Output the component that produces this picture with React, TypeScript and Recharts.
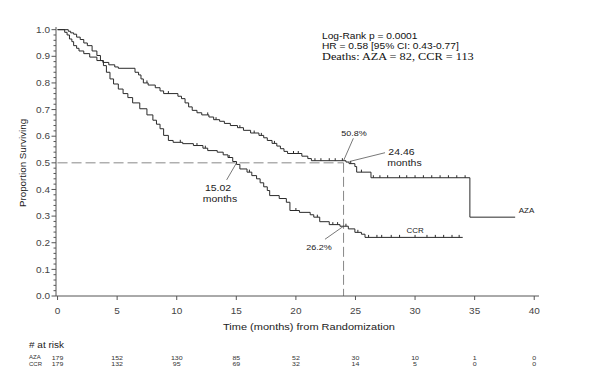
import React from 'react';
import {
  ComposedChart,
  Line,
  Scatter,
  XAxis,
  YAxis,
  ReferenceLine,
  ReferenceDot,
  Customized,
} from 'recharts';

// ---------- data ----------
const timeTicks = [0, 5, 10, 15, 20, 25, 30, 35, 40];
const atRiskAZA = [179, 152, 130, 85, 52, 30, 10, 1, 0];
const atRiskCCR = [179, 132, 95, 69, 32, 14, 5, 0, 0];

// Kaplan-Meier steps: [time (months), proportion surviving]
const azaCurve: [number, number][] = [
  [0, 1.0], [0.6, 0.99], [0.8, 0.98], [1.0, 0.965], [1.2, 0.955], [1.35, 0.94],
  [1.6, 0.93], [1.8, 0.92], [2.2, 0.91], [2.7, 0.897], [3.3, 0.884], [3.8, 0.877],
  [4.3, 0.868], [4.8, 0.86], [5.1, 0.855], [6.5, 0.84], [6.8, 0.83], [7.0, 0.815],
  [7.2, 0.8], [7.6, 0.792], [8.2, 0.782], [8.6, 0.77], [8.9, 0.76], [10.1, 0.75],
  [10.4, 0.741], [10.7, 0.725], [11.0, 0.71], [11.3, 0.697], [11.7, 0.688],
  [12.1, 0.68], [12.7, 0.672], [13.1, 0.662], [13.6, 0.656], [14.0, 0.648],
  [14.5, 0.64], [15.1, 0.632], [15.6, 0.622], [16.2, 0.612], [16.9, 0.603],
  [17.3, 0.594], [17.6, 0.584], [18.0, 0.573], [18.4, 0.563], [18.7, 0.553],
  [19.0, 0.543], [19.3, 0.535], [20.5, 0.525], [21.0, 0.516], [21.3, 0.508],
  [24.2, 0.503], [24.46, 0.497], [24.95, 0.486], [25.1, 0.465], [26.3, 0.444],
  [34.6, 0.296], [38.4, 0.296],
];

const ccrCurve: [number, number][] = [
  [0, 1.0], [0.9, 0.994], [1.1, 0.988], [1.35, 0.983], [1.6, 0.972], [1.9, 0.963],
  [2.2, 0.95], [2.5, 0.94], [2.9, 0.92], [3.3, 0.903], [3.6, 0.884], [3.85, 0.865],
  [4.1, 0.84], [4.4, 0.815], [4.7, 0.796], [5.1, 0.777], [5.5, 0.76], [5.9, 0.745],
  [6.3, 0.725], [6.9, 0.703], [7.5, 0.68], [8.0, 0.66], [8.3, 0.645], [8.6, 0.628],
  [8.9, 0.603], [9.3, 0.584], [9.7, 0.577], [10.5, 0.572], [11.4, 0.565],
  [12.2, 0.555], [12.6, 0.546], [13.4, 0.54], [13.9, 0.53], [14.3, 0.52],
  [14.7, 0.505], [15.02, 0.494], [15.3, 0.477], [15.9, 0.465], [16.3, 0.452],
  [16.7, 0.44], [17.0, 0.425], [17.3, 0.41], [17.6, 0.396], [17.8, 0.377],
  [18.6, 0.366], [19.2, 0.352], [19.5, 0.321], [20.3, 0.314], [21.2, 0.305],
  [21.5, 0.296], [22.0, 0.279], [22.8, 0.268], [23.7, 0.262], [24.4, 0.252],
  [24.95, 0.239], [25.5, 0.232], [25.8, 0.22], [34.0, 0.22],
];

// censoring times
const azaCensor = [7.5, 9.3, 12.6, 13.3, 15.3, 16.5, 17.1, 18.2, 19.8, 20.2, 21.6, 22.1,
  22.8, 23.3, 23.9, 24.6, 25.5, 26.5, 27.05, 27.7, 28.7, 29.3, 30.0, 30.7, 31.4, 32.1,
  32.8, 33.5, 34.2];
const ccrCensor = [10.3, 11.7, 12.4, 14.4, 16.1, 20.0, 21.8, 23.1, 23.5, 24.2, 25.2,
  26.1, 26.8, 27.2, 28.0, 28.7, 30.0, 31.0, 31.7, 32.4, 33.1, 33.7];

const yMajor = [0, 0.1, 0.2, 0.3, 0.4, 0.5, 0.6, 0.7, 0.8, 0.9, 1.0];
const yTicks = Array.from({ length: 51 }, (_, i) => Math.round(i * 2) / 100);

// ---------- helpers ----------
const toRows = (c: [number, number][]) => c.map(([t, s]) => ({ t, s }));
const survAt = (c: [number, number][], t: number) => {
  let s = c[0][1];
  for (const [ti, si] of c) if (ti <= t) s = si;
  return s;
};
const azaData = toRows(azaCurve);
const ccrData = toRows(ccrCurve);
const azaCensorData = azaCensor.map((t) => ({ t, s: survAt(azaCurve, t) }));
const ccrCensorData = ccrCensor.map((t) => ({ t, s: survAt(ccrCurve, t) }));

const FONT = '"Liberation Sans", Arial, sans-serif';
const SERIF = '"Liberation Serif", "Times New Roman", serif';
const INK = '#2a2a2a';
const AXIS = '#555';

// text slightly compressed vertically, like the reference rendering
const SText = ({ x, y, size, anchor = 'start', k = 0.88, fill = '#222', family = FONT, children }: any) => (
  <text
    transform={`translate(${x} ${y}) scale(1 ${k})`}
    x={0}
    y={0}
    fontSize={size}
    textAnchor={anchor}
    fill={fill}
    fontFamily={family}
  >
    {children}
  </text>
);

const CensorMark = (p: any) => (
  <line x1={p.cx} x2={p.cx} y1={p.cy - 2.5} y2={p.cy} stroke={INK} strokeWidth={1} />
);

const YTick = (p: any) => {
  const { x, y, payload } = p;
  const v = payload.value as number;
  const major = yMajor.some((m) => Math.abs(m - v) < 1e-6);
  const axisX = x + 6;
  return (
    <g>
      <line x1={axisX - (major ? 4.5 : 2.5)} x2={axisX} y1={y} y2={y} stroke={AXIS} strokeWidth={1} />
      {major && (
        <SText x={x} y={y + 3.2} size={10} anchor="end" fill="#444">
          {v.toFixed(1)}
        </SText>
      )}
    </g>
  );
};

const XTick = (p: any) => {
  const { x, y, payload } = p;
  return (
    <SText x={x} y={y + 14} size={10} anchor="middle" fill="#444">
      {payload.value}
    </SText>
  );
};

const annotations = [
  { t: 24.88, v: 0.612, text: '50.8%', size: 9 },
  { t: 28.86, v: 0.542, text: '24.46', size: 10.5 },
  { t: 29.11, v: 0.502, text: 'months', size: 10.5 },
  { t: 13.47, v: 0.406, text: '15.02', size: 10.5 },
  { t: 13.63, v: 0.364, text: 'months', size: 10.5 },
  { t: 21.94, v: 0.185, text: '26.2%', size: 9 },
  { t: 30.0, v: 0.248, text: 'CCR', size: 8 },
  { t: 39.35, v: 0.323, text: 'AZA', size: 8 },
];

const leaders = [
  [{ x: 24, y: 0.508 }, { x: 24.82, y: 0.592 }],
  [{ x: 24.5, y: 0.505 }, { x: 27.48, y: 0.538 }],
  [{ x: 15.02, y: 0.5 }, { x: 14.19, y: 0.436 }],
  [{ x: 24, y: 0.262 }, { x: 22.44, y: 0.213 }],
];

// at-risk table rows (placed below the axis through the y scale)
const riskRowAZA = -0.23;
const riskRowCCR = -0.255;

const StaticText = () => (
  <g>
    <SText x={322} y={38.5} size={10.2} fill="#111">Log-Rank p = 0.0001</SText>
    <SText x={322} y={48.5} size={10.2} fill="#111">HR = 0.58 [95% CI: 0.43-0.77]</SText>
    <SText x={322} y={59.5} size={12.3} fill="#111" family={SERIF}>Deaths: AZA = 82, CCR = 113</SText>
    <text
      x={22}
      y={163}
      fontSize={9.8}
      textAnchor="middle"
      dominantBaseline="central"
      transform="rotate(-90 22 163)"
      fill="#222"
      fontFamily={FONT}
    >
      Proportion Surviving
    </text>
    <SText x={309} y={330} size={11} anchor="middle">Time (months) from Randomization</SText>
    <SText x={29} y={348} size={10}>
      # at risk
    </SText>
    <SText x={29} y={359.3} size={6} fill="#333">AZA</SText>
    <SText x={29} y={366} size={6} fill="#333">CCR</SText>
  </g>
);

export default function App() {
  return (
    <div style={{ position: 'absolute', left: 0, top: 0, width: 604, height: 376, background: '#fff', fontFamily: FONT }}>
      <ComposedChart width={604} height={376} margin={{ top: 27, right: 65, bottom: 7, left: 0 }}>
        <XAxis
          type="number"
          dataKey="t"
          domain={[-0.13, 40.4]}
          allowDataOverflow
          ticks={timeTicks}
          interval={0}
          height={73}
          tickSize={4}
          tickMargin={0}
          stroke={AXIS}
          tick={<XTick />}
        />
        <YAxis
          type="number"
          domain={[0, 1.01]}
          allowDataOverflow
          ticks={yTicks}
          interval={0}
          width={56}
          tickSize={5}
          tickMargin={1}
          tickLine={false}
          stroke={AXIS}
          tick={<YTick />}
        />

        <ReferenceLine
          segment={[{ x: 0, y: 0.5 }, { x: 24, y: 0.5 }]}
          stroke="#888"
          strokeDasharray="10 4"
          strokeWidth={1}
        />
        <ReferenceLine
          segment={[{ x: 24, y: 0.5 }, { x: 24, y: 0 }]}
          stroke="#888"
          strokeDasharray="10 4"
          strokeWidth={1}
        />

        <Line
          data={azaData}
          dataKey="s"
          type="stepAfter"
          stroke={INK}
          strokeWidth={1}
          dot={false}
          isAnimationActive={false}
        />
        <Line
          data={ccrData}
          dataKey="s"
          type="stepAfter"
          stroke={INK}
          strokeWidth={1}
          dot={false}
          isAnimationActive={false}
        />
        <Scatter data={azaCensorData} dataKey="s" shape={<CensorMark />} isAnimationActive={false} />
        <Scatter data={ccrCensorData} dataKey="s" shape={<CensorMark />} isAnimationActive={false} />

        {leaders.map((seg, i) => (
          <ReferenceLine key={'l' + i} segment={seg} stroke="#555" strokeWidth={0.8} />
        ))}
        {annotations.map((a, i) => (
          <ReferenceDot
            key={'a' + i}
            x={a.t}
            y={a.v}
            r={0}
            shape={(p: any) => (
              <SText x={p.cx} y={p.cy + a.size * 0.32} size={a.size} anchor="middle">
                {a.text}
              </SText>
            )}
          />
        ))}
        {timeTicks.map((t, i) => (
          <ReferenceDot
            key={'ra' + i}
            x={t}
            y={riskRowAZA}
            r={0}
            ifOverflow="visible"
            shape={(p: any) => (
              <SText x={p.cx} y={p.cy + 2.3} size={7} anchor="middle" fill="#333">
                {atRiskAZA[i]}
              </SText>
            )}
          />
        ))}
        {timeTicks.map((t, i) => (
          <ReferenceDot
            key={'rc' + i}
            x={t}
            y={riskRowCCR}
            r={0}
            ifOverflow="visible"
            shape={(p: any) => (
              <SText x={p.cx} y={p.cy + 2.3} size={7} anchor="middle" fill="#333">
                {atRiskCCR[i]}
              </SText>
            )}
          />
        ))}
        <Customized component={<StaticText />} />
      </ComposedChart>
    </div>
  );
}
